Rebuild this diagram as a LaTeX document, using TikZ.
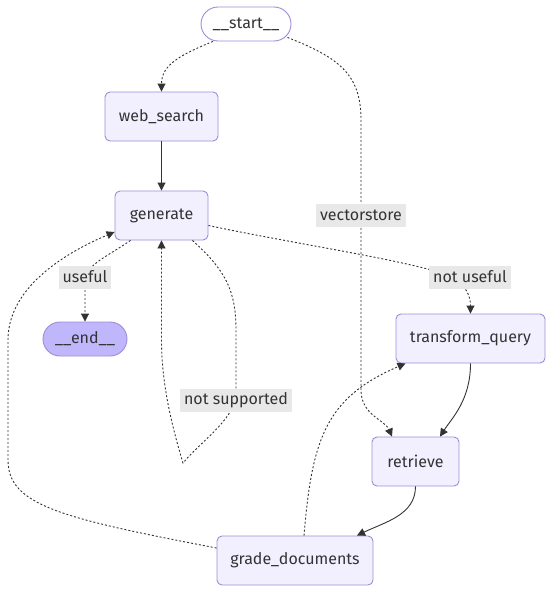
\documentclass[tikz,border=0pt]{standalone}
\usepackage{fontspec}
\setmainfont{Fira Sans}
\usetikzlibrary{arrows.meta}
\definecolor{nodefill}{HTML}{F2F0FF}
\definecolor{nodeborder}{HTML}{A08AD8}
\definecolor{endfill}{HTML}{BFB6FC}
\definecolor{txt}{HTML}{333333}
\definecolor{lblbg}{HTML}{E8E8E8}
\tikzset{
  box/.style={draw=nodeborder, fill=nodefill, line width=0.9pt, rounded corners=5pt,
    minimum height=49pt, text=txt, font=\fontsize{16}{19}\selectfont, inner sep=0pt},
  pill/.style={draw=nodeborder, line width=0.9pt, rounded corners=17pt,
    minimum height=34pt, text=txt, font=\fontsize{16}{19}\selectfont, inner sep=0pt},
  lbl/.style={fill=lblbg, text=txt, font=\fontsize{16}{19}\selectfont, inner xsep=4pt, inner ysep=3pt, minimum height=23pt},
  conn/.style={draw=txt, line width=0.9pt, -{Triangle[length=8pt,width=8pt]}},
  dotconn/.style={conn, dash pattern=on 2pt off 2pt},
}
\begin{document}
\begin{tikzpicture}[x=1pt,y=-1pt]
\useasboundingbox (0,0) rectangle (553,594);
% nodes
\node[pill, fill=white, minimum width=90pt] (start) at (246,24) {\_\_start\_\_};
\node[box, minimum width=113pt] (web) at (161.5,116.5) {web\_search};
\node[box, minimum width=93pt] (gen) at (161.5,215.5) {generate};
\node[pill, fill=endfill, minimum width=84pt] (end) at (85,339) {\_\_end\_\_};
\node[box, minimum width=149pt] (tq) at (470.5,338.5) {transform\_query};
\node[box, minimum width=87pt] (ret) at (415.5,461.5) {retrieve};
\node[box, minimum width=156pt] (grade) at (295,560.5) {grade\_documents};
% edges
\draw[dotconn] ([xshift=-33pt]start.south) .. controls (180,55) and (161.5,65) .. (web.north);
\draw[dotconn] ([xshift=-4pt,yshift=4pt]start.south east) .. controls (340,58) and (361,75) .. (361,120)
  -- (361,390) .. controls (361,415) and (385,420) .. ([xshift=-23.5pt]ret.north);
\draw[conn] (web) -- (gen);
\draw[dotconn] ([xshift=-31pt]gen.south) .. controls (105,258) and (85,265) .. (85,282) -- (end.north);
\draw[dotconn] ([yshift=-10pt]gen.east) .. controls (300,245) and (420,262) .. (455,278)
  .. controls (465,286) and (470.5,295) .. (tq.north);
\draw[dotconn] ([xshift=31pt]gen.south) .. controls (225,270) and (236,290) .. (236,330) -- (236,395)
  .. controls (234,420) and (200,442) .. (183,463) .. controls (170,420) and (161.5,380) .. (161.5,340) -- (gen.south);
\draw[conn] (tq.south) .. controls (470.5,400) and (452,418) .. ([xshift=24.5pt]ret.north);
\draw[conn] (ret.south) .. controls (415.5,515) and (385,522) .. ([xshift=62pt]grade.north);
\draw[dotconn] ([xshift=9pt]grade.north) .. controls (312,440) and (325,398) .. ([xshift=-65pt]tq.south);
\draw[dotconn] ([yshift=12.5pt]grade.west) .. controls (60,518) and (8,505) .. (8,460) -- (8,340)
  .. controls (8,290) and (60,255) .. ([yshift=-16.5pt]gen.west);
% labels
\node[lbl] (lvec) at (361,215) {vectorstore};
\node[lbl] (luse) at (85,277) {useful};
\node[lbl] (lnot) at (470,277) {not useful};
\node[lbl] (lsup) at (236,400) {not supported};
\end{tikzpicture}
\end{document}
